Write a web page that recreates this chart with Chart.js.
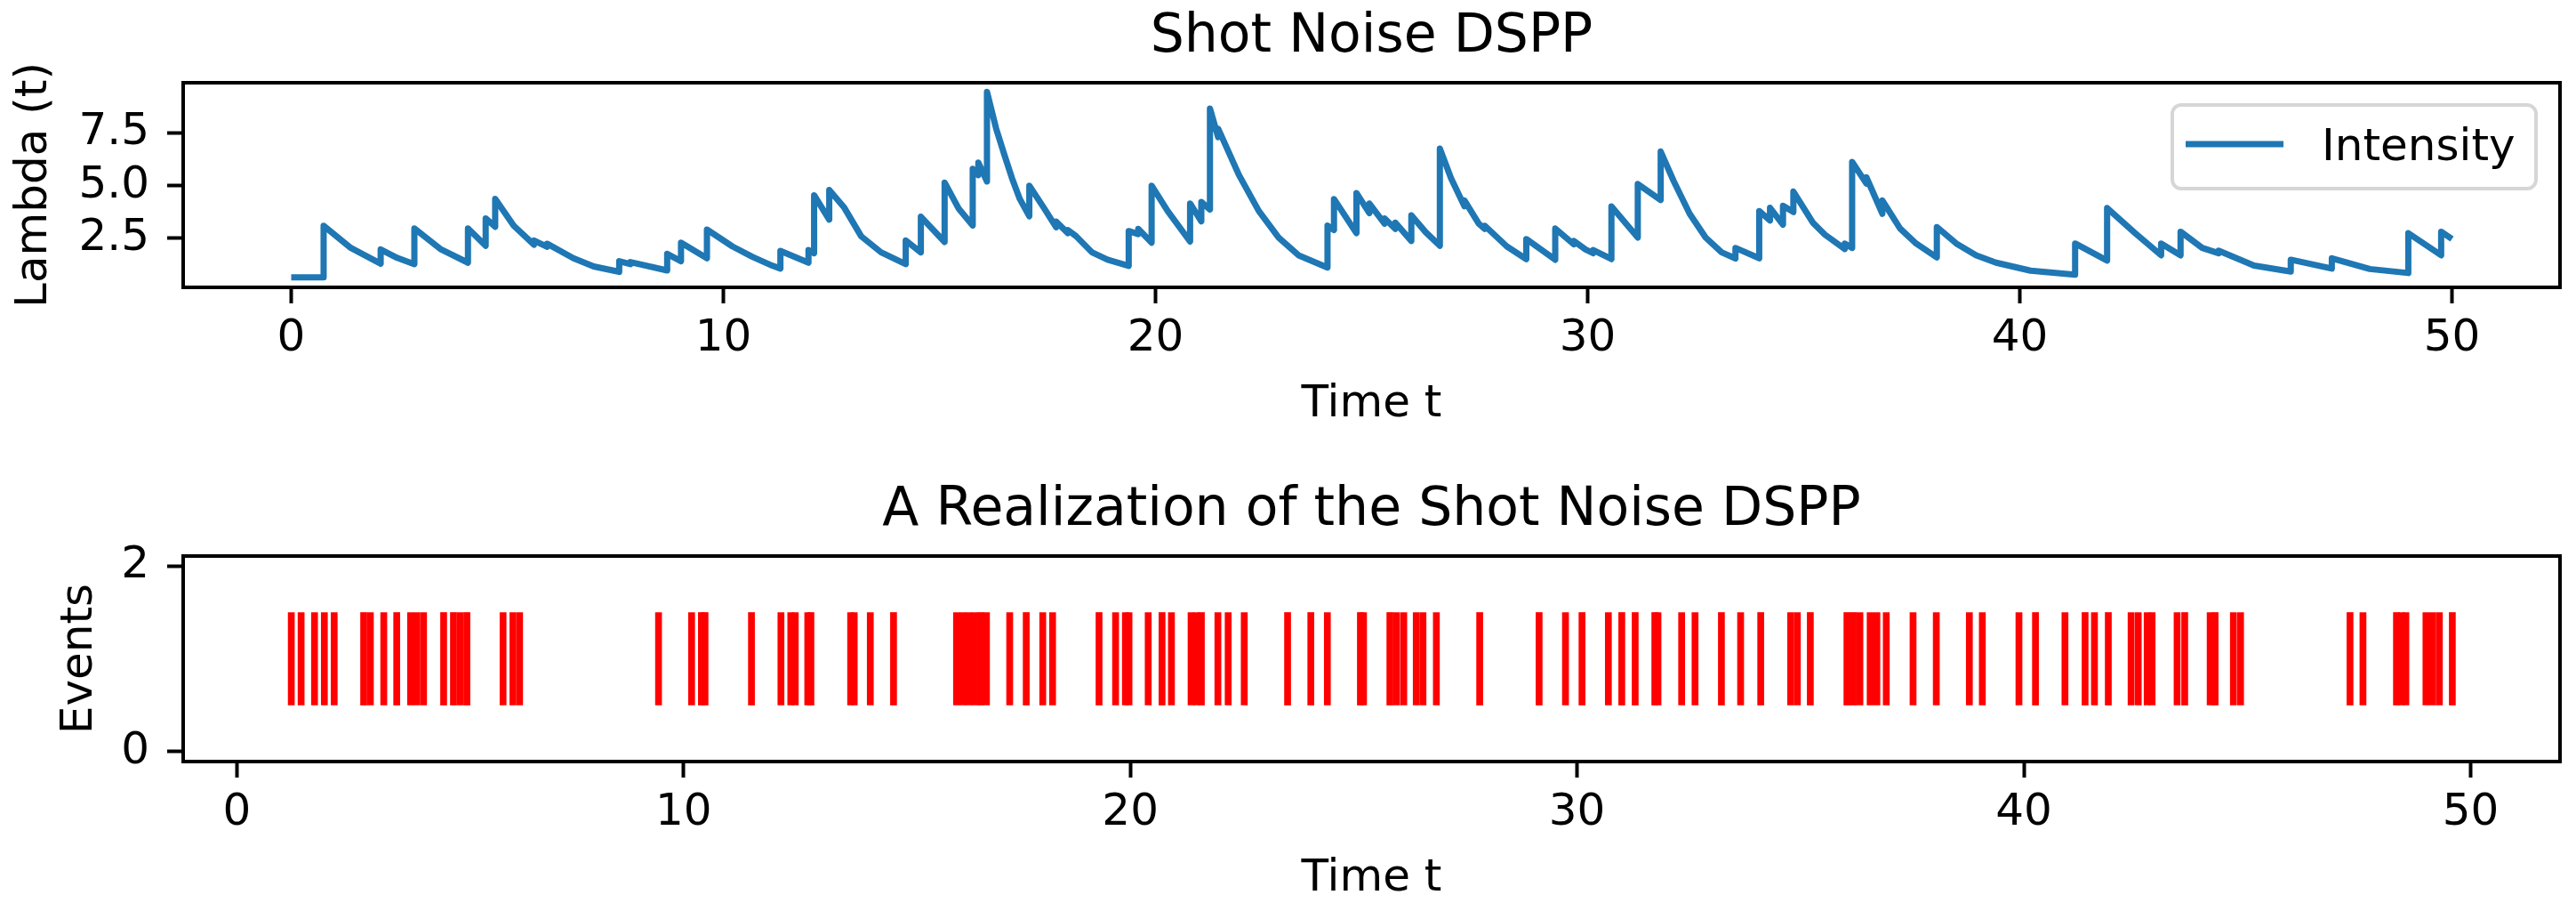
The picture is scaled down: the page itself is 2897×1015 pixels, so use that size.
<!DOCTYPE html>
<html><head><meta charset="utf-8">
<script src="https://cdn.jsdelivr.net/npm/chart.js@4.4.1/dist/chart.umd.min.js"></script>
<style>
html,body{margin:0;padding:0;overflow:hidden;background:#fff;width:2897px;height:1015px;}
#c1{position:absolute;left:0;top:0;}
#c2{position:absolute;left:0;top:500px;}
</style></head><body>
<canvas id="c1" width="3085" height="500"></canvas>
<canvas id="c2" width="3085" height="533"></canvas>
<script>
// ---------- data ----------
const intensityTimes = [0.00,0.75,0.75,1.38,2.07,2.07,2.45,2.85,2.85,3.45,4.09,4.09,4.50,4.50,4.72,4.72,5.15,5.62,5.62,5.92,5.92,6.53,7.00,7.59,7.59,7.85,7.85,8.70,8.70,9.02,9.02,9.62,9.62,10.21,10.67,11.13,11.32,11.32,11.97,11.97,12.10,12.10,12.45,12.45,12.80,13.19,13.65,14.22,14.22,14.57,14.57,15.12,15.12,15.45,15.77,15.77,15.90,15.90,16.10,16.10,16.31,16.50,16.68,16.86,17.08,17.08,17.42,17.70,17.70,17.97,17.97,18.16,18.53,18.89,19.38,19.38,19.60,19.60,19.91,19.91,20.28,20.80,20.80,21.06,21.06,21.26,21.26,21.45,21.45,21.93,22.39,22.85,23.31,23.98,23.98,24.13,24.13,24.65,24.65,24.95,24.95,25.30,25.30,25.55,25.55,25.92,25.92,26.25,26.58,26.58,26.84,27.15,27.15,27.48,27.62,27.62,28.13,28.58,28.58,29.25,29.25,29.68,29.68,29.95,30.13,30.13,30.55,30.55,31.16,31.16,31.69,31.69,31.99,32.36,32.73,33.10,33.42,33.42,33.97,33.97,34.22,34.22,34.52,34.52,34.76,34.76,35.21,35.49,35.95,35.95,36.12,36.12,36.45,36.45,36.82,36.82,37.23,37.60,38.08,38.08,38.53,38.99,39.45,40.25,41.28,41.28,42.02,42.02,42.67,43.27,43.27,43.72,43.72,44.22,44.60,44.60,45.42,46.27,46.27,47.22,47.22,48.10,48.99,48.99,49.75,49.75,50.00];
const intensityValues = [0.65,0.65,3.10,2.05,1.30,1.98,1.58,1.28,2.97,2.00,1.35,2.97,2.15,3.45,3.05,4.38,3.10,2.20,2.40,2.10,2.25,1.56,1.17,0.92,1.42,1.28,1.38,0.98,1.77,1.42,2.30,1.56,2.92,2.12,1.63,1.21,1.07,1.91,1.35,1.95,1.80,4.55,3.39,4.80,3.95,2.60,1.84,1.28,2.40,1.84,3.53,2.33,5.15,3.90,3.11,5.80,5.50,6.10,5.20,9.45,7.72,6.48,5.35,4.37,3.55,5.00,3.94,3.03,3.30,2.75,2.90,2.61,1.84,1.49,1.20,2.85,2.70,2.95,2.30,5.00,3.80,2.35,4.16,3.31,4.23,3.87,8.66,7.30,7.70,5.51,3.80,2.54,1.70,1.12,3.11,2.90,4.37,2.75,4.65,3.70,4.15,3.20,3.45,2.95,3.25,2.38,3.60,2.80,2.15,6.76,5.35,4.02,4.30,3.20,2.95,3.10,2.12,1.52,2.47,1.49,2.97,2.22,2.38,1.98,1.80,1.95,1.52,4.02,2.54,5.08,4.32,6.62,5.22,3.67,2.54,1.84,1.55,2.05,1.56,3.80,3.35,3.95,3.15,4.05,3.75,4.72,3.25,2.68,2.00,2.26,2.05,6.13,5.10,5.40,3.67,4.30,2.97,2.26,1.60,3.04,2.26,1.70,1.35,0.97,0.78,2.26,1.45,3.94,2.75,1.70,2.26,1.70,2.82,2.05,1.80,1.92,1.21,0.93,1.49,1.07,1.56,1.05,0.86,2.75,1.70,2.82,2.47];
const eventTimes = [1.22,1.44,1.74,1.96,2.18,2.84,2.99,3.29,3.58,3.89,4.03,4.18,4.63,4.85,5.00,5.15,5.96,6.18,6.33,9.44,10.18,10.40,10.48,11.52,12.18,12.40,12.50,12.78,12.85,13.74,13.82,14.18,14.70,16.11,16.25,16.38,16.51,16.65,16.78,17.30,17.67,18.04,18.26,19.30,19.67,19.89,19.97,20.40,20.71,20.92,21.36,21.48,21.59,21.96,22.19,22.55,23.52,24.04,24.41,25.15,25.22,25.81,25.96,26.12,26.40,26.55,26.85,27.82,29.15,29.74,30.11,30.70,31.00,31.30,31.74,31.81,32.34,32.64,33.23,33.66,34.11,34.78,34.93,35.22,36.04,36.18,36.33,36.56,36.71,36.92,37.52,38.04,38.78,39.07,39.89,40.26,40.92,41.37,41.58,41.89,42.40,42.56,42.76,42.87,43.43,43.60,44.17,44.28,44.69,44.85,47.30,47.59,48.34,48.45,48.55,49.00,49.15,49.30,49.59];
const eventOffset = 1;
const eventLength = 1;
const timeTicks = [0, 10, 20, 30, 40, 50];
const lambdaTicks = [2.5, 5.0, 7.5];
const eventAxisTicks = [0, 2];

// ---------- styling ----------
const FONT = 'DejaVu Sans';
Chart.defaults.font.family = FONT;
Chart.defaults.color = '#000';

const framePlugin = {
  id: 'frame',
  afterDatasetsDraw(chart) {
    const {ctx, chartArea: a} = chart;
    ctx.save();
    ctx.strokeStyle = '#000';
    ctx.lineWidth = 4;
    ctx.strokeRect(a.left, a.top, a.right - a.left, a.bottom - a.top);
    ctx.restore();
  }
};

const legendPlugin = {
  id: 'mplLegend',
  afterDraw(chart) {
    const {ctx, chartArea: a} = chart;
    const ds = chart.data.datasets[0];
    const w = 409, h = 94, r = 10;
    const right = a.right - 27, top = a.top + 25, left = right - w;
    ctx.save();
    ctx.beginPath();
    ctx.moveTo(left + r, top);
    ctx.lineTo(right - r, top); ctx.arcTo(right, top, right, top + r, r);
    ctx.lineTo(right, top + h - r); ctx.arcTo(right, top + h, right - r, top + h, r);
    ctx.lineTo(left + r, top + h); ctx.arcTo(left, top + h, left, top + h - r, r);
    ctx.lineTo(left, top + r); ctx.arcTo(left, top, left + r, top, r);
    ctx.closePath();
    ctx.fillStyle = 'rgba(255,255,255,0.8)';
    ctx.fill();
    ctx.strokeStyle = '#d6d6d6';
    ctx.lineWidth = 4;
    ctx.stroke();
    ctx.beginPath();
    ctx.moveTo(left + 15, top + 44);
    ctx.lineTo(left + 125, top + 44);
    ctx.strokeStyle = ds.borderColor;
    ctx.lineWidth = 7;
    ctx.stroke();
    ctx.fillStyle = '#000';
    ctx.font = '50px "' + FONT + '"';
    ctx.textBaseline = 'alphabetic';
    ctx.textAlign = 'left';
    ctx.fillText(ds.label, left + 168, top + 62);
    ctx.restore();
  }
};

function tickGrid() {
  return {display: true, drawOnChartArea: false, drawTicks: true, tickLength: 18, tickWidth: 4, tickColor: '#000', offset: false};
}

// ---------- top chart ----------
new Chart(document.getElementById('c1'), {
  type: 'line',
  data: {
    datasets: [{
      label: 'Intensity',
      data: intensityTimes.map((t, i) => ({x: t, y: intensityValues[i]})),
      borderColor: '#1f77b4',
      borderWidth: 7,
      pointRadius: 0,
      fill: false,
      tension: 0,
      borderJoinStyle: 'round',
      xAxisID: 'x',
      yAxisID: 'y'
    }]
  },
  options: {
    responsive: false, animation: false, devicePixelRatio: 1,
    layout: {padding: 0},
    plugins: {
      legend: {display: false},
      tooltip: {enabled: false},
      title: {display: true, text: 'Shot Noise DSPP', color: '#000',
        font: {size: 60, weight: 'normal', family: FONT, lineHeight: 1.2},
        padding: {top: 6, bottom: 15}}
    },
    scales: {
      x: {
        type: 'linear', position: 'bottom', min: -2.5, max: 52.5, bounds: 'data',
        afterFit: s => { s.height = 177; },
        afterBuildTicks: s => { s.ticks = timeTicks.map(v => ({value: v})); },
        ticks: {autoSkip: false, maxRotation: 0, minRotation: 0, padding: 10, font: {size: 50}, color: '#000', callback: v => String(v)},
        grid: tickGrid(),
        border: {display: false},
        title: {display: true, text: 'Time t', color: '#000', font: {size: 50, lineHeight: 1.2}, padding: {top: 0, bottom: 15}}
      },
      y: {
        type: 'linear', position: 'left', min: 0.18, max: 9.88, bounds: 'data',
        afterFit: s => { s.width = 206; },
        afterBuildTicks: s => { s.ticks = lambdaTicks.map(v => ({value: v})); },
        ticks: {autoSkip: false, padding: 20, font: {size: 50}, color: '#000', callback: v => Number(v).toFixed(1)},
        grid: tickGrid(),
        border: {display: false},
        title: {display: true, text: 'Lambda (t)', color: '#000', font: {size: 50, lineHeight: 1.2}, padding: {top: 9, bottom: 0}}
      },
      yR: {
        type: 'linear', position: 'right', display: true,
        afterFit: s => { s.width = 206; },
        ticks: {display: false}, grid: {display: false}, border: {display: false}
      }
    }
  },
  plugins: [framePlugin, legendPlugin]
});

// ---------- bottom chart ----------
new Chart(document.getElementById('c2'), {
  type: 'bar',
  data: {
    datasets: [{
      label: 'Events',
      data: eventTimes.map(t => ({x: t, y: [eventOffset - eventLength / 2, eventOffset + eventLength / 2]})),
      backgroundColor: '#ff0000',
      borderWidth: 0,
      barThickness: 7,
      grouped: false,
      xAxisID: 'x',
      yAxisID: 'y'
    }]
  },
  options: {
    responsive: false, animation: false, devicePixelRatio: 1,
    layout: {padding: 0},
    plugins: {
      legend: {display: false},
      tooltip: {enabled: false},
      title: {display: true, text: 'A Realization of the Shot Noise DSPP', color: '#000',
        font: {size: 60, weight: 'normal', family: FONT, lineHeight: 1.2},
        padding: {top: 38, bottom: 15}}
    },
    scales: {
      x: {
        type: 'linear', position: 'bottom', min: -1.2, max: 52.0, bounds: 'data', offset: false,
        afterFit: s => { s.height = 177; },
        afterBuildTicks: s => { s.ticks = timeTicks.map(v => ({value: v})); },
        ticks: {autoSkip: false, maxRotation: 0, minRotation: 0, padding: 10, font: {size: 50}, color: '#000', callback: v => String(v)},
        grid: tickGrid(),
        border: {display: false},
        title: {display: true, text: 'Time t', color: '#000', font: {size: 50, lineHeight: 1.2}, padding: {top: 0, bottom: 15}}
      },
      y: {
        type: 'linear', position: 'left', min: -0.11, max: 2.11, bounds: 'data',
        afterFit: s => { s.width = 206; },
        afterBuildTicks: s => { s.ticks = eventAxisTicks.map(v => ({value: v})); },
        ticks: {autoSkip: false, padding: 20, font: {size: 50}, color: '#000', callback: v => String(v)},
        grid: tickGrid(),
        border: {display: false},
        title: {display: true, text: 'Events', color: '#000', font: {size: 50, lineHeight: 1.2}, padding: {top: 60, bottom: 0}}
      },
      yR: {
        type: 'linear', position: 'right', display: true,
        afterFit: s => { s.width = 206; },
        ticks: {display: false}, grid: {display: false}, border: {display: false}
      }
    }
  },
  plugins: [framePlugin]
});
</script>
</body></html>
